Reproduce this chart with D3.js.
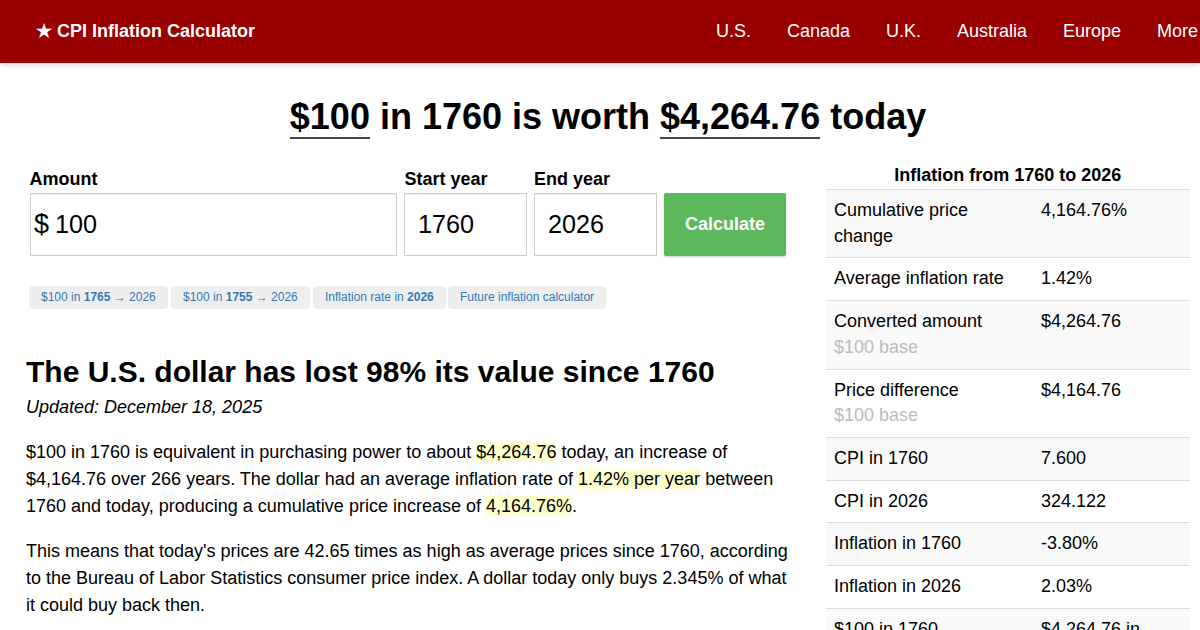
<!DOCTYPE html>
<html><head><meta charset="utf-8">
<script src="https://cdn.jsdelivr.net/npm/d3@7"></script>
<style>html,body{margin:0;padding:0;background:#fff;overflow:hidden}
#page{position:relative;width:1200px;height:630px;overflow:hidden;font-family:"Liberation Sans",Arial,sans-serif;background:#fff}
svg{display:block;position:absolute;left:0;top:0}
.t{position:absolute;white-space:pre;line-height:normal}
mark{background:#ffffcc;color:inherit}
.u{border-bottom:2px solid #444}
</style>
</head><body><div id="page"></div>
<script>
const brand = "★ CPI Inflation Calculator";
const navLabels = ["U.S.","Canada","U.K.","Australia","Europe","More"];
const titleParts = [["$100",1],[" in 1760 is worth ",0],["$4,264.76",1],[" today",0]];
const formLabels = ["Amount","Start year","End year"];
const formValues = ["100","1760","2026"];
const currencySign = "$";
const buttonLabel = "Calculate";
const pills = [
  [["$100 in ",0],["1765",1],[" → 2026",0]],
  [["$100 in ",0],["1755",1],[" → 2026",0]],
  [["Inflation rate in ",0],["2026",1]],
  [["Future inflation calculator",0]]
];
const heading = "The U.S. dollar has lost 98% its value since 1760";
const updated = "Updated: December 18, 2025";
const para1 = [
  [["$100 in 1760 is equivalent in purchasing power to about ",0],["$4,264.76",1],[" today, an increase of",0]],
  [["$4,164.76 over 266 years. The dollar had an average inflation rate of ",0],["1.42% per year",1],[" between",0]],
  [["1760 and today, producing a cumulative price increase of ",0],["4,164.76%",1],[".",0]]
];
const para2 = [
  "This means that today's prices are 42.65 times as high as average prices since 1760, according",
  "to the Bureau of Labor Statistics consumer price index. A dollar today only buys 2.345% of what",
  "it could buy back then."
];
const tableTitle = "Inflation from 1760 to 2026";
const rowLabels = [["Cumulative price","change"],["Average inflation rate"],["Converted amount","$100 base"],["Price difference","$100 base"],["CPI in 1760"],["CPI in 2026"],["Inflation in 1760"],["Inflation in 2026"],["$100 in 1760"]];
const rowValues = ["4,164.76%","1.42%","$4,264.76","$4,164.76","7.600","324.122","-3.80%","2.03%","$4,264.76 in"];

const page = d3.select("#page");
const svg = page.append("svg").attr("width",1200).attr("height",630);
const f = svg.append("defs").append("filter").attr("id","sh").attr("x","-5%").attr("y","-20%").attr("width","110%").attr("height","160%");
f.append("feDropShadow").attr("dx",0).attr("dy",2).attr("stdDeviation",2.5).attr("flood-color","#000").attr("flood-opacity",.16);
const f2 = svg.select("defs").append("filter").attr("id","sh2").attr("x","-5%").attr("y","-10%").attr("width","110%").attr("height","120%");
f2.append("feDropShadow").attr("dx",0).attr("dy",1).attr("stdDeviation",1).attr("flood-color","#000").attr("flood-opacity",.2);
const T=(x,y,s,o={})=>{
  const size=o.size||18;
  const d=page.append("div").attr("class","t")
    .style("top",(y-Math.round(.905*size))+"px")
    .style("font-size",size+"px").style("font-weight",o.bold?700:400)
    .style("font-style",o.italic?"italic":null).style("color",o.fill||"#000");
  if(Array.isArray(s)) s.forEach(([p,flag])=>{
    d.append(flag?(o.flagTag||"b"):"span").attr("class",flag&&o.flagClass?o.flagClass:null).text(p);
  }); else d.text(s);
  const w=d.node().getBoundingClientRect().width;
  d.style("left",(o.anchor==="middle"?x-w/2:x)+"px");
  return d;
};
const R=(x,y,w,h,fill,o={})=>svg.append("rect").attr("x",x).attr("y",y).attr("width",w).attr("height",h).attr("fill",fill).attr("rx",o.rx||0).attr("stroke",o.stroke||null).attr("stroke-width",o.stroke?1:null).attr("filter",o.filter||null);

// header
R(0,0,1200,63,"#990000",{filter:"url(#sh)"});
T(36,36,brand,{bold:true,fill:"#fff"});
const navX = d3.scaleOrdinal().domain(navLabels).range([716,787,886,957,1063,1157]);
navLabels.forEach(n=>T(navX(n),37,n,{fill:"#fff"}));

// title
T(608,129,titleParts,{size:36,bold:true,anchor:"middle",flagTag:"span",flagClass:"u"});

// form
const labelX=[29.6,404.4,534], boxX=[30,404,534], boxW=[367,123,123], valX=[55,418,548];
formLabels.forEach((l,i)=>{
  T(labelX[i],185,l,{bold:true});
  R(boxX[i]+.5,193.5,boxW[i]-1,62,"#fff",{stroke:"#ccc"});
  R(boxX[i]+1,194,boxW[i]-2,1,"#f4f4f4");
  T(valX[i],233,formValues[i],{size:25.2});
});
T(34,233,currencySign,{size:27});
R(664,193,122,63,"#5cb85c",{rx:2,filter:"url(#sh2)"});
T(725,230,buttonLabel,{bold:true,fill:"#fff",anchor:"middle"});

// pills
const pillX=[29,171,313,448], pillW=[139,139,133,158];
pills.forEach((p,i)=>{
  R(pillX[i],286,pillW[i],23,"#eeeeee",{rx:4});
  T(pillX[i]+12,301,p,{size:12,fill:"#337ab7"});
});

// article
T(26,382,heading,{size:30,bold:true});
T(26,413,updated,{italic:true});
para1.forEach((line,i)=>T(26,458+i*27,line,{flagTag:"mark"}));
para2.forEach((s,i)=>T(26,557+i*27,s));

// table
T(1007.7,181,tableTitle,{bold:true,anchor:"middle"});
const rowH=[68,43,69,68,43,42,43,43,60];
const subGap=[26,0,26,25];
let y=189;
rowLabels.forEach((l,i)=>{
  if(i%2==0) R(826,y,364,rowH[i],"#f9f9f9");
  R(826,y,364,1,"#dddddd");
  const base=y+27;
  const sub=l[1]&&l[1].startsWith("$");
  T(834,base,l[0]);
  if(l[1]) T(834,base+subGap[i],l[1],{fill:sub?"#bbbbbb":"#000"});
  T(1041,base,rowValues[i]);
  y+=rowH[i];
});
</script></body></html>
